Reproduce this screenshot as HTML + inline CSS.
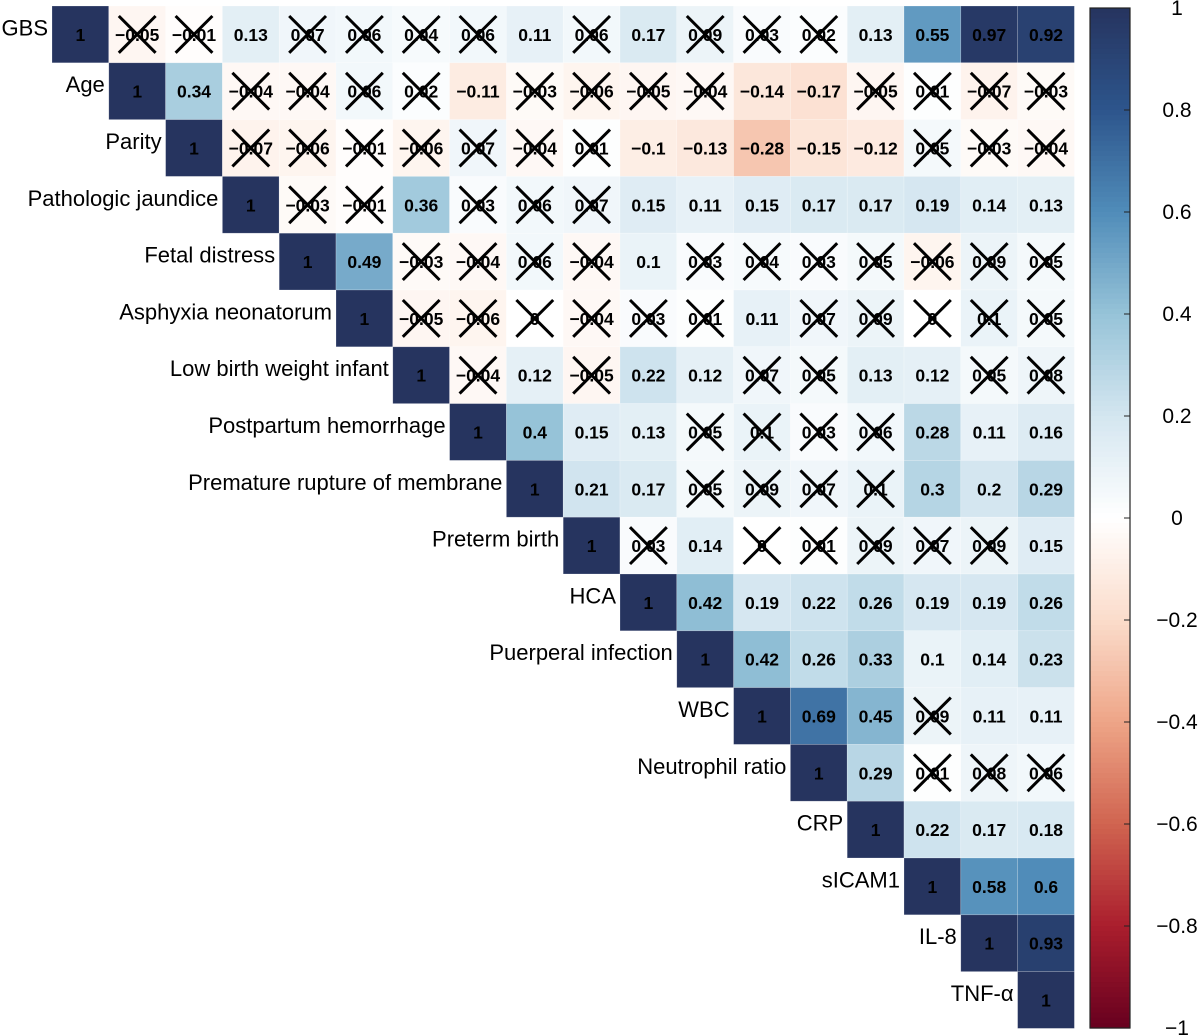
<!DOCTYPE html>
<html><head><meta charset="utf-8"><style>
html,body{margin:0;padding:0;background:#fff;width:1200px;height:1036px;overflow:hidden}
svg{display:block}
text{font-family:"Liberation Sans",Arial,sans-serif}
</style></head><body>
<svg id="chart" width="1200" height="1036" xmlns="http://www.w3.org/2000/svg"></svg>
<script>
const variables=["GBS","Age","Parity","Pathologic jaundice","Fetal distress","Asphyxia neonatorum","Low birth weight infant","Postpartum hemorrhage","Premature rupture of membrane","Preterm birth","HCA","Puerperal infection","WBC","Neutrophil ratio","CRP","sICAM1","IL-8","TNF-α"];
const row0=[1,-0.05,-0.01,0.13,0.07,0.06,0.04,0.06,0.11,0.06,0.17,0.09,0.03,0.02,0.13,0.55,0.97,0.92];
const row1=[1,0.34,-0.04,-0.04,0.06,0.02,-0.11,-0.03,-0.06,-0.05,-0.04,-0.14,-0.17,-0.05,0.01,-0.07,-0.03];
const row2=[1,-0.07,-0.06,-0.01,-0.06,0.07,-0.04,0.01,-0.1,-0.13,-0.28,-0.15,-0.12,0.05,-0.03,-0.04];
const row3=[1,-0.03,-0.01,0.36,0.03,0.06,0.07,0.15,0.11,0.15,0.17,0.17,0.19,0.14,0.13];
const row4=[1,0.49,-0.03,-0.04,0.06,-0.04,0.1,0.03,0.04,0.03,0.05,-0.06,0.09,0.05];
const row5=[1,-0.05,-0.06,0,-0.04,0.03,0.01,0.11,0.07,0.09,0,0.1,0.05];
const row6=[1,-0.04,0.12,-0.05,0.22,0.12,0.07,0.05,0.13,0.12,0.05,0.08];
const row7=[1,0.4,0.15,0.13,0.05,0.1,0.03,0.06,0.28,0.11,0.16];
const row8=[1,0.21,0.17,0.05,0.09,0.07,0.1,0.3,0.2,0.29];
const row9=[1,0.03,0.14,0,0.01,0.09,0.07,0.09,0.15];
const row10=[1,0.42,0.19,0.22,0.26,0.19,0.19,0.26];
const row11=[1,0.42,0.26,0.33,0.1,0.14,0.23];
const row12=[1,0.69,0.45,0.09,0.11,0.11];
const row13=[1,0.29,0.01,0.08,0.06];
const row14=[1,0.22,0.17,0.18];
const row15=[1,0.58,0.6];
const row16=[1,0.93];
const row17=[1];
const rows=[row0,row1,row2,row3,row4,row5,row6,row7,row8,row9,row10,row11,row12,row13,row14,row15,row16,row17];
// column offsets (from diagonal) of non-significant (crossed) cells
const crossed=[[1,2,4,5,6,7,9,11,12,13],[2,3,4,5,7,8,9,10,13,14,15,16],[1,2,3,4,5,6,7,13,14,15],[1,2,4,5,6],[2,3,4,5,7,8,9,10,11,12,13],[1,2,3,4,5,6,8,9,10,11,12],[1,3,6,7,10,11],[4,5,6,7],[3,4,5,6],[1,3,4,5,6,7],[],[],[3],[2,3,4],[],[],[],[]];
const cbTicks=[1,0.8,0.6,0.4,0.2,0,-0.2,-0.4,-0.6,-0.8,-1];

const NS="http://www.w3.org/2000/svg";
const svg=document.getElementById('chart');
const X0=52,Y0=6,CW=56.8;
const xPos=j=>X0+j*CW, yPos=i=>Y0+i*CW;
const stops=[[-1,[103,0,31]],[-0.8,[170,30,45]],[-0.6,[208,100,80]],[-0.4,[238,165,135]],[-0.2,[251,220,203]],[0,[255,255,255]],[0.2,[212,230,240]],[0.4,[150,195,216]],[0.6,[80,140,185]],[0.8,[45,85,140]],[1,[38,52,95]]];
function color(v){for(let k=0;k<stops.length-1;k++){const a=stops[k],b=stops[k+1];if(v<=b[0]){const t=(v-a[0])/(b[0]-a[0]);const c=a[1].map((x,i)=>Math.round(x+(b[1][i]-x)*t));return `rgb(${c})`;}}return 'rgb(38,52,95)';}
function mk(tag,attrs,parent){const e=document.createElementNS(NS,tag);for(const k in attrs)e.setAttribute(k,attrs[k]);(parent||svg).appendChild(e);return e;}
function fmt(v){if(v===0)return '0';return String(v).replace('-','\u2212');}

rows.forEach((r,i)=>{
  const lab=mk('text',{x:xPos(i)-4,y:yPos(i)+CW/2+1,'text-anchor':'end','font-size':22,fill:'#000'});
  
  
  lab.textContent=variables[i];
  r.forEach((v,k)=>{
    const j=i+k;
    const g=mk('g',{});
    
    
    mk('rect',{x:xPos(j),y:yPos(i),width:CW,height:CW,fill:color(v),stroke:'rgba(255,255,255,0.35)','stroke-width':0.6},g);
    const t=mk('text',{x:xPos(j)+CW/2,y:yPos(i)+CW/2+6.5,'text-anchor':'middle','font-size':17.5,'font-weight':'bold',fill:'#000'},g);
    t.textContent=fmt(v);
    if(crossed[i].includes(k)){
      const a=10,cx=xPos(j),cy=yPos(i);
      mk('line',{x1:cx+a,y1:cy+a,x2:cx+CW-a,y2:cy+CW-a,stroke:'#000','stroke-width':3},g);
      mk('line',{x1:cx+CW-a,y1:cy+a,x2:cx+a,y2:cy+CW-a,stroke:'#000','stroke-width':3},g);
    }
  });
});

// colorbar
const cbX=1090,cbW=40,cbTop=8,cbBot=1028;
const cb=mk('g',{});


const N=200;
for(let k=0;k<N;k++){const v=1-2*(k+0.5)/N;mk('rect',{x:cbX,y:cbTop+k*(cbBot-cbTop)/N,width:cbW,height:(cbBot-cbTop)/N+0.6,fill:color(v)},cb);}
mk('rect',{x:cbX,y:cbTop,width:cbW,height:cbBot-cbTop,fill:'none',stroke:'#222','stroke-width':1.2},cb);
const yCb=v=>cbTop+(1-v)/2*(cbBot-cbTop);
cbTicks.forEach(v=>{
  mk('line',{x1:cbX+cbW-6,y1:yCb(v),x2:cbX+cbW,y2:yCb(v),stroke:'#222','stroke-width':1},cb);
  const t=mk('text',{x:1177,y:yCb(v)+7,'text-anchor':'middle','font-size':21,fill:'#000'},cb);
  
  
  t.textContent=String(v).replace('-','\u2212');
});
</script>
</body></html>
